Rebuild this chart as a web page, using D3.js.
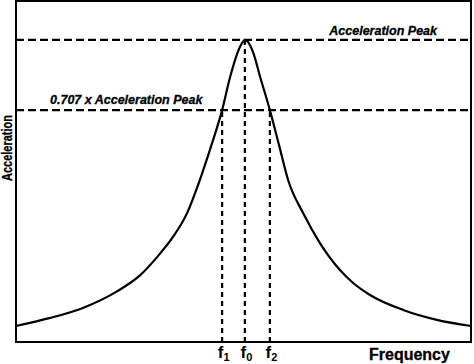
<!DOCTYPE html>
<html>
<head>
<meta charset="utf-8">
<script src="https://cdn.jsdelivr.net/npm/d3@7"></script>
<style>
  body { margin: 0; background: #fff; }
  svg { display: block; }
  text { font-family: "Liberation Sans", Arial, sans-serif; font-weight: bold; fill: #000; }
</style>
</head>
<body>
<svg id="chart" width="474" height="364"></svg>
<script>
// response curve (arbitrary units, 0-100 on both axes)
const freq = [0, 7.3, 14.7, 22.0, 27.3, 31.0, 34.5, 37.6, 40.4, 42.9, 45.3, 47.0, 48.6, 49.7, 50.3,
  51.0, 52.1, 53.6, 55.8, 57.8, 59.8, 63.1, 66.8, 71.2, 74.1, 77.8, 85.1, 92.5, 100];
const accel = [4.7, 7.0, 10.0, 14.7, 19.6, 24.9, 30.8, 37.8, 47.5, 57.5, 68.0, 77.4, 84.5, 87.7, 88.6,
  88.0, 85.0, 78.0, 68.0, 57.8, 47.5, 37.8, 29.0, 21.1, 17.3, 13.8, 9.4, 6.5, 4.7];

// reference levels
const levels = [88.6, 68.0];
const levelLabels = ["Acceleration Peak", "0.707 x Acceleration Peak"];

// f1, f0, f2 markers
const markerFreqs = [45.3, 50.3, 55.8];
const markerTops = [68.0, 88.6, 68.0];
const markerSubs = ["1", "0", "2"];

const width = 474;
const height = 364;
const margin = { top: 1, left: 16, bottom: 22, right: 3 };

const svg = d3.select("#chart");

const x = d3.scaleLinear()
  .domain([0, 100])
  .range([margin.left, width - margin.right]);

const y = d3.scaleLinear()
  .domain([0, 100])
  .range([height - margin.bottom, margin.top]);

// plot frame
svg.append("rect")
  .attr("x", x(0))
  .attr("y", y(100))
  .attr("width", x(100) - x(0))
  .attr("height", y(0) - y(100))
  .attr("fill", "none")
  .attr("stroke", "#000")
  .attr("stroke-width", 2);

// horizontal dashed levels
svg.append("g")
  .selectAll("line")
  .data(levels)
  .join("line")
  .attr("x1", x(0))
  .attr("x2", x(100))
  .attr("y1", d => y(d))
  .attr("y2", d => y(d))
  .attr("stroke", "#000")
  .attr("stroke-width", 2.2)
  .attr("stroke-dasharray", "8,4");

// vertical dashed markers
svg.append("g")
  .selectAll("line")
  .data(markerFreqs)
  .join("line")
  .attr("x1", d => x(d))
  .attr("x2", d => x(d))
  .attr("y1", y(0))
  .attr("y2", (d, i) => y(markerTops[i]))
  .attr("stroke", "#000")
  .attr("stroke-width", 2.2)
  .attr("stroke-dasharray", "5,4");

// curve
const line = d3.line()
  .x((d, i) => x(freq[i]))
  .y(d => y(d))
  .curve(d3.curveMonotoneX);

svg.append("path")
  .datum(accel)
  .attr("fill", "none")
  .attr("stroke", "#000")
  .attr("stroke-width", 2.2)
  .attr("d", line);

// level labels
svg.append("text")
  .attr("x", 437)
  .attr("y", y(levels[0]) - 4.5)
  .attr("text-anchor", "end")
  .attr("font-size", "12.5px")
  .attr("font-style", "italic")
  .attr("stroke", "#000")
  .attr("stroke-width", 0.3)
  .text(levelLabels[0]);

svg.append("text")
  .attr("x", 50)
  .attr("y", y(levels[1]) - 6.5)
  .attr("font-size", "12.5px")
  .attr("font-style", "italic")
  .attr("stroke", "#000")
  .attr("stroke-width", 0.3)
  .text(levelLabels[1]);

// x axis with f labels
const xAxis = svg.append("g")
  .attr("transform", `translate(0, ${y(0)})`)
  .call(d3.axisBottom(x).tickValues(markerFreqs).tickSize(0).tickFormat(""));
xAxis.select(".domain").remove();
xAxis.selectAll(".tick text").each(function (d, i) {
  const t = d3.select(this)
    .attr("y", 16)
    .attr("dy", 0)
    .attr("x", 1)
    .attr("font-size", "17px")
    .attr("font-family", null)
    .attr("fill", "#000");
  t.append("tspan").text("f");
  t.append("tspan").attr("font-size", "11px").attr("dy", 3).text(markerSubs[i]);
});

// axis titles
svg.append("text")
  .attr("x", 369)
  .attr("y", 360)
  .attr("font-size", "16px")
  .attr("stroke", "#000")
  .attr("stroke-width", 0.3)
  .text("Frequency");

svg.append("text")
  .attr("transform", "translate(12, 148) rotate(-90)")
  .attr("text-anchor", "middle")
  .attr("font-size", "14px")
  .attr("textLength", 66)
  .attr("lengthAdjust", "spacingAndGlyphs")
  .attr("stroke", "#000")
  .attr("stroke-width", 0.3)
  .text("Acceleration");
</script>
</body>
</html>
